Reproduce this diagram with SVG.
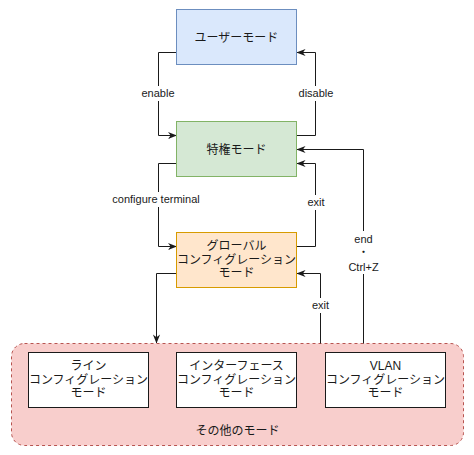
<svg xmlns="http://www.w3.org/2000/svg" width="474" height="455" viewBox="0 0 474 455">
<defs>
<marker id="arr" viewBox="0 0 10 10" refX="9.5" refY="5" markerWidth="9" markerHeight="9" markerUnits="userSpaceOnUse" orient="auto">
<path d="M0,1 L10,5 L0,9 L3,5 z" fill="#1a1a1a"/>
</marker>
<style>
text{font-family:"Liberation Sans","Noto Sans CJK JP",sans-serif;font-size:12px;fill:#1a1a1a;text-anchor:middle}
text.el{font-size:11px}
.conn{fill:none;stroke:#1a1a1a;stroke-width:1}
.lbg{fill:#ffffff;stroke:none}
.inner{fill:#ffffff;stroke:#1a1a1a;stroke-width:1}
</style>
</defs>
<rect width="474" height="455" fill="#ffffff"/>
<g id="other-modes">
<rect x="11.5" y="343.5" width="452" height="102" rx="13" ry="13" fill="#f8cecc" stroke="#b85450" stroke-dasharray="3,3"/>
<text x="237.5" y="434.5">その他のモード</text>
</g>
<g id="connectors">
<path class="conn" d="M176.5,52.5 H158.5 V135.5 H176.5" marker-end="url(#arr)"/>
<path class="conn" d="M296.5,135.5 H315.5 V52.5 H297" marker-end="url(#arr)"/>
<path class="conn" d="M176.5,163.5 H158.5 V246.5 H176.5" marker-end="url(#arr)"/>
<path class="conn" d="M296.5,246.5 H315.5 V163.5 H297" marker-end="url(#arr)"/>
<path class="conn" d="M363.5,343.5 V149.5 H297" marker-end="url(#arr)"/>
<path class="conn" d="M320.5,343.5 V273.5 H297" marker-end="url(#arr)"/>
<path class="conn" d="M176.5,273.5 H156.5 V343" marker-end="url(#arr)"/>
<rect class="lbg" x="139" y="86" width="38" height="15"/>
<text class="el" x="158" y="97">enable</text>
<rect class="lbg" x="297" y="86" width="38" height="15"/>
<text class="el" x="316" y="97">disable</text>
<rect class="lbg" x="109" y="192" width="96" height="15"/>
<text class="el" x="156" y="203">configure terminal</text>
<rect class="lbg" x="305" y="195" width="22" height="15"/>
<text class="el" x="316" y="206">exit</text>
<rect class="lbg" x="345" y="231" width="37" height="43"/>
<text class="el" x="363.5" y="243">end</text>
<text class="el" x="363.5" y="256">・</text>
<text class="el" x="363.5" y="271">Ctrl+Z</text>
<rect class="lbg" x="309" y="298" width="23" height="15"/>
<text class="el" x="320.5" y="309">exit</text>
</g>
<g id="user-mode">
<rect x="176.5" y="9.5" width="120" height="55" fill="#dae8fc" stroke="#6c8ebf"/>
<text x="236.5" y="41.5">ユーザーモード</text>
</g>
<g id="privileged-mode">
<rect x="176.5" y="121.5" width="120" height="55" fill="#d5e8d4" stroke="#82b366"/>
<text x="236.5" y="153.5">特権モード</text>
</g>
<g id="global-config-mode">
<rect x="176.5" y="232.5" width="120" height="55" fill="#ffe6cc" stroke="#d79b00"/>
<text x="236.5" y="250">グローバル</text>
<text x="236.5" y="263.5">コンフィグレーション</text>
<text x="236.5" y="277">モード</text>
</g>
<g id="line-config-mode">
<rect class="inner" x="28.5" y="352.5" width="120" height="55"/>
<text x="88.5" y="370">ライン</text>
<text x="88.5" y="383.5">コンフィグレーション</text>
<text x="88.5" y="397">モード</text>
</g>
<g id="interface-config-mode">
<rect class="inner" x="176.5" y="352.5" width="120" height="55"/>
<text x="236.5" y="370">インターフェース</text>
<text x="236.5" y="383.5">コンフィグレーション</text>
<text x="236.5" y="397">モード</text>
</g>
<g id="vlan-config-mode">
<rect class="inner" x="325.5" y="352.5" width="120" height="55"/>
<text x="385.5" y="370">VLAN</text>
<text x="385.5" y="383.5">コンフィグレーション</text>
<text x="385.5" y="397">モード</text>
</g>
</svg>
